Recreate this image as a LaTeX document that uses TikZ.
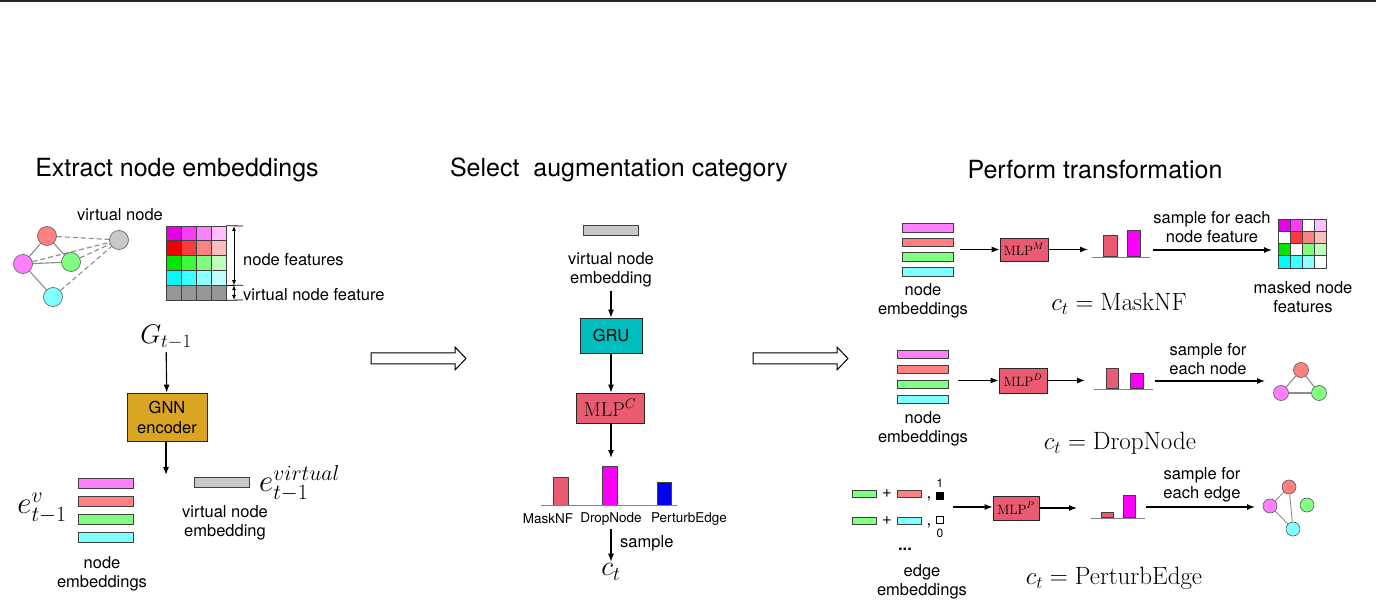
\RequirePackage{fix-cm}
\documentclass[tikz,border=0pt]{standalone}
\usepackage[no-math]{fontspec}
\setmainfont{TeX Gyre Heros}
\usetikzlibrary{arrows.meta,backgrounds}
\definecolor{cM}{RGB}{255,128,255}
\definecolor{cR}{RGB}{255,128,128}
\definecolor{cG}{RGB}{128,255,128}
\definecolor{cC}{RGB}{128,255,255}
\definecolor{cV}{RGB}{200,200,200}
\definecolor{gold}{RGB}{218,165,32}
\definecolor{tealbox}{RGB}{0,190,190}
\definecolor{mlp}{RGB}{234,90,112}
\definecolor{barM}{RGB}{250,0,250}
\definecolor{barB}{RGB}{0,0,235}
\definecolor{edgegray}{RGB}{140,140,140}
% left feature matrix
\definecolor{L11}{RGB}{230,0,230}\definecolor{L12}{RGB}{250,60,250}\definecolor{L13}{RGB}{250,130,250}\definecolor{L14}{RGB}{255,190,255}
\definecolor{L21}{RGB}{240,0,0}\definecolor{L22}{RGB}{250,60,60}\definecolor{L23}{RGB}{250,130,130}\definecolor{L24}{RGB}{255,190,190}
\definecolor{L31}{RGB}{0,230,0}\definecolor{L32}{RGB}{60,250,60}\definecolor{L33}{RGB}{130,250,130}\definecolor{L34}{RGB}{190,255,190}
\definecolor{L41}{RGB}{0,250,250}\definecolor{L42}{RGB}{60,255,255}\definecolor{L43}{RGB}{140,255,255}\definecolor{L44}{RGB}{190,255,255}
\definecolor{L51}{RGB}{150,150,150}\definecolor{L52}{RGB}{150,150,150}\definecolor{L53}{RGB}{150,150,150}\definecolor{L54}{RGB}{150,150,150}
% masked matrix
\definecolor{R11}{RGB}{230,0,230}\definecolor{R12}{RGB}{250,60,250}\definecolor{R13}{RGB}{255,255,255}\definecolor{R14}{RGB}{255,190,255}
\definecolor{R21}{RGB}{255,255,255}\definecolor{R22}{RGB}{250,60,60}\definecolor{R23}{RGB}{250,130,130}\definecolor{R24}{RGB}{255,190,190}
\definecolor{R31}{RGB}{0,230,0}\definecolor{R32}{RGB}{255,255,255}\definecolor{R33}{RGB}{130,250,130}\definecolor{R34}{RGB}{190,255,190}
\definecolor{R41}{RGB}{0,250,250}\definecolor{R42}{RGB}{60,255,255}\definecolor{R43}{RGB}{140,255,255}\definecolor{R44}{RGB}{255,255,255}
\begin{document}
\begin{tikzpicture}[x=1pt,y=-1pt,
  lbl/.style={font=\fontsize{16.5}{19.5}\selectfont, align=center, inner sep=0pt},
  small/.style={font=\fontsize{13.5}{16}\selectfont, inner sep=0pt},
  tiny/.style={font=\fontsize{12}{14}\selectfont, inner sep=0pt},
  ttl/.style={font=\fontsize{25}{30}\selectfont, inner sep=0pt},
  arr/.style={-{Latex[length=8pt,width=6pt]}, line width=1.1pt},
  dbl/.style={{Latex[length=5pt,width=4pt]}-{Latex[length=5pt,width=4pt]}, line width=0.8pt},
  emb/.style={draw=black!75, line width=0.7pt, inner sep=0pt, minimum width=55pt, minimum height=10pt},
  embs/.style={emb, minimum width=51pt, minimum height=8.5pt},
  embe/.style={emb, minimum width=24pt, minimum height=7pt},
  gnode/.style={circle, draw=black!65, line width=0.6pt, inner sep=0pt, minimum size=19pt},
  sgnode/.style={gnode, minimum size=15pt},
  gedge/.style={draw=edgegray, line width=1.1pt},
  dedge/.style={gedge, dash pattern=on 5pt off 3pt},
  cell/.style={draw=black!75, line width=0.6pt, inner sep=0pt, minimum width=15pt, minimum height=14.8pt},
  scell/.style={cell, minimum width=12pt, minimum height=12.25pt},
  box/.style={draw=black!85, line width=0.8pt, inner sep=0pt},
  pbar/.style={draw=black!75, line width=0.6pt, inner sep=0pt, anchor=south},
  base/.style={draw=black!50, line width=0.9pt},
  hollow/.style={draw=black, line width=1pt, fill=white},
  mathbig/.style={inner sep=0pt}
]
\useasboundingbox (0,0) rectangle (1376,601);
\fill[black!85] (0,0) rectangle (1376,2.4);

% titles
\node[ttl] (t1) at (177,170) {Extract node embeddings};
\node[ttl] (t2) at (619,170) {Select\ \ augmentation category};
\node[ttl] (t3) at (1095,170) {Perform transformation};

% ---------------- left section ----------------
\node[gnode, fill=cR] (gr) at (47,236) {};
\node[gnode, fill=cM] (gm) at (23,264) {};
\node[gnode, fill=cG] (gg) at (71,262) {};
\node[gnode, fill=cC] (gc) at (53,297) {};
\node[gnode, fill=cV] (gv) at (119,240) {};
\begin{scope}[on background layer]
\draw[gedge] (gr) -- (gm);
\draw[gedge] (gr) -- (gg);
\draw[gedge] (gm) -- (gg);
\draw[gedge] (gm) -- (gc);
\draw[dedge] (gr) -- (gv);
\draw[dedge] (gm) -- (gv);
\draw[dedge] (gg) -- (gv);
\draw[dedge] (gc) -- (gv);
\end{scope}
\node[lbl] (vnl) at (120,215) {virtual node};

\foreach \r in {1,...,5}
  \foreach \c in {1,...,4}
    \node[cell, fill=L\r\c] (L\r\c) at ({166+15*(\c-0.5)},{226+14.8*(\r-0.5)}) {};
\coordinate (b1) at (234,226);
\coordinate (b2) at (234,285.2);
\coordinate (b3) at (234,300);
\draw[line width=0.8pt] (L14.north east) -- (243,226);
\draw[line width=0.8pt] (L44.south east) -- (243,285.2);
\draw[line width=0.8pt] (L54.south east) -- (243,300);
\draw[dbl] (b1) -- (b2);
\draw[dbl] (b2) -- (b3);
\node[lbl, anchor=west] (nf) at (243,260) {node features};
\node[lbl, anchor=west] (vnf) at (243,295) {virtual node feature};

\node[mathbig, font=\fontsize{27}{32}\selectfont] (G) at (166,337) {$G_{t-1}$};
\node[box, fill=gold, minimum width=80pt, minimum height=48pt, lbl, font=\fontsize{16.5}{20}\selectfont] (gnn) at (167,417) {GNN\\encoder};
\draw[arr, shorten <=3pt] (G) -- (gnn);
\coordinate (gnnout) at (166,475);
\draw[arr] (gnn.south -| gnnout) -- (gnnout);

\node[emb, fill=cM] (le1) at (105.5,483) {};
\node[emb, fill=cR] (le2) at (105.5,501.5) {};
\node[emb, fill=cG] (le3) at (105.5,519) {};
\node[emb, fill=cC] (le4) at (105.5,537) {};
\node[mathbig, font=\fontsize{31}{36}\selectfont] (ev) at (42,508) {$e^{v}_{t-1}$};
\node[lbl] (nel) at (102,574) {node\\embeddings};
\node[emb, fill=cV] (lv) at (221.5,482.5) {};
\node[mathbig, font=\fontsize{31}{36}\selectfont, anchor=west] (evirt) at (259,483) {$e^{virtual}_{t-1}$};
\node[lbl] (vel) at (225,523) {virtual node\\embedding};

% hollow arrows
\draw[hollow] (371,353) -- (455,353) -- (455,347) -- (466,358.5) -- (455,370) -- (455,364) -- (371,364) -- cycle;
\draw[hollow] (753,353) -- (837,353) -- (837,347) -- (848,358.5) -- (837,370) -- (837,364) -- (753,364) -- cycle;

% ---------------- middle section ----------------
\node[emb, fill=cV] (mv) at (610.5,230) {};
\node[lbl] (mvl) at (611,270) {virtual node\\embedding};
\node[box, fill=tealbox, minimum width=62pt, minimum height=35pt, font=\fontsize{16.5}{19.5}\selectfont] (gru) at (611,335.5) {GRU};
\node[box, fill=mlp, minimum width=68pt, minimum height=30pt, font=\fontsize{20}{24}\selectfont] (mlpC) at (610,408) {$\mathrm{MLP}^{C}$};
\draw[arr, shorten <=3pt] (mvl) -- (mvl.south |- gru.north);
\draw[arr] (gru) -- (gru.south |- mlpC.north);
\coordinate (mlpCout) at (611,458);
\draw[arr] (mlpC.south -| mlpCout) -- (mlpCout);
\coordinate (mb0) at (541,505.7);
\coordinate (mb1) at (677,505.7);
\node[pbar, fill=mlp, minimum width=15pt, minimum height=28pt] (cb1) at (560.5,505.7) {};
\node[pbar, fill=barM, minimum width=15pt, minimum height=39pt] (cb2) at (609.5,505.7) {};
\node[pbar, fill=barB, minimum width=14pt, minimum height=23pt] (cb3) at (664,505.7) {};
\draw[base] (mb0) -- (mb1);
\node[small] (mnf) at (548,519) {MaskNF};
\node[small] (dnl) at (611,519) {DropNode};
\node[small] (pel) at (689,519) {PerturbEdge};
\node[mathbig, font=\fontsize{28}{32}\selectfont] (ct) at (611,572) {$c_t$};
\draw[arr, shorten <=3pt, shorten >=2pt] (dnl) -- (ct);
\node[lbl, anchor=west] (smp) at (620,543) {sample};

% ---------------- right section: row 1 ----------------
\node[embs, fill=cM] (r1e1) at (927.5,228) {};
\node[embs, fill=cR] (r1e2) at (927.5,242.5) {};
\node[embs, fill=cG] (r1e3) at (927.5,257) {};
\node[embs, fill=cC] (r1e4) at (927.5,272) {};
\node[lbl] (r1l) at (923,301) {node\\embeddings};
\node[box, fill=mlp, minimum width=48pt, minimum height=23pt, font=\fontsize{13.5}{16}\selectfont] (mlpM) at (1024,249.5) {$\mathrm{MLP}^{M}$};
\coordinate (r1a) at (960,249.5);
\draw[arr] (r1a) -- (mlpM);
\coordinate (r1b) at (1088,249.5);
\draw[arr] (mlpM.east) -- (r1b);
\coordinate (r1c0) at (1092,257);
\coordinate (r1c1) at (1150,257);
\node[pbar, fill=mlp, minimum width=14pt, minimum height=21pt] (r1b1) at (1110,257) {};
\node[pbar, fill=barM, minimum width=13pt, minimum height=26pt] (r1b2) at (1133.5,257) {};
\draw[base] (r1c0) -- (r1c1);
\foreach \r in {1,...,4}
  \foreach \c in {1,...,4}
    \node[scell, fill=R\r\c] (R\r\c) at ({1278+12*(\c-0.5)},{219+12.25*(\r-0.5)}) {};
\coordinate (r1d) at (1153,250);
\coordinate (r1e) at (1272,250);
\draw[arr] (r1d) -- (r1e);
\node[lbl] (r1s) at (1212,227) {sample for each\\node feature};
\node[lbl] (r1m) at (1303,297) {masked node\\features};
\node[mathbig, font=\fontsize{25}{30}\selectfont] (ct1) at (1119,304) {$c_t=\mathrm{MaskNF}$};

% ---------------- right section: row 2 ----------------
\node[embs, fill=cM, minimum height=8pt] (r2e1) at (923,354.5) {};
\node[embs, fill=cR, minimum height=8pt] (r2e2) at (923,369.5) {};
\node[embs, fill=cG, minimum height=8pt] (r2e3) at (923,384.5) {};
\node[embs, fill=cC, minimum height=8pt] (r2e4) at (923,399) {};
\node[lbl] (r2l) at (923,429) {node\\embeddings};
\node[box, fill=mlp, minimum width=48pt, minimum height=25pt, font=\fontsize{13.5}{16}\selectfont] (mlpD) at (1023,380.5) {$\mathrm{MLP}^{D}$};
\coordinate (r2a) at (958,380.5);
\draw[arr] (r2a) -- (mlpD);
\coordinate (r2b) at (1085,380.5);
\draw[arr] (mlpD.east) -- (r2b);
\coordinate (r2c0) at (1094,389);
\coordinate (r2c1) at (1153,389);
\node[pbar, fill=mlp, minimum width=12pt, minimum height=20pt] (r2b1) at (1112.5,389) {};
\node[pbar, fill=barM, minimum width=13pt, minimum height=15pt] (r2b2) at (1136.5,389) {};
\draw[base] (r2c0) -- (r2c1);
\coordinate (r2d) at (1155,381);
\coordinate (r2e) at (1265,381);
\draw[arr] (r2d) -- (r2e);
\node[lbl] (r2s) at (1208,359) {sample for\\each node};
\node[sgnode, fill=cR] (dr) at (1301,370) {};
\node[sgnode, fill=cM] (dm) at (1281,393) {};
\node[sgnode, fill=cG] (dg) at (1319,393) {};
\draw[gedge] (dr) -- (dm);
\draw[gedge] (dr) -- (dg);
\draw[gedge] (dm) -- (dg);
\node[mathbig, font=\fontsize{25}{30}\selectfont] (ct2) at (1120,443) {$c_t=\mathrm{DropNode}$};

% ---------------- right section: row 3 ----------------
\node[embe, fill=cG] (pa1) at (864,493.5) {};
\node[lbl] (pap) at (887,493.5) {+};
\node[embe, fill=cR] (pa2) at (909.5,493.5) {};
\node[lbl, anchor=base] (pac) at (929,498) {,};
\node[draw=black, fill=black, inner sep=0pt, minimum size=7pt] (pas) at (939.5,495.5) {};
\node[tiny] (pa1l) at (940,483) {1};
\node[embe, fill=cG] (pb1) at (864,521) {};
\node[lbl] (pbp) at (887,521) {+};
\node[embe, fill=cC] (pb2) at (909.5,521) {};
\node[lbl, anchor=base] (pbc) at (929,525) {,};
\node[draw=black, fill=white, line width=0.7pt, inner sep=0pt, minimum size=7pt] (pbs) at (939.5,520) {};
\node[tiny] (pb0l) at (940,533) {0};
\node[lbl, font=\bfseries\fontsize{16.5}{19.5}\selectfont] (pdots) at (905,549) {...};
\node[lbl] (r3l) at (922,582) {edge\\embeddings};
\node[box, fill=mlp, minimum width=46pt, minimum height=24pt, font=\fontsize{13.5}{16}\selectfont] (mlpP) at (1016,508) {$\mathrm{MLP}^{P}$};
\coordinate (r3a) at (953,507);
\draw[arr] (r3a) -- (r3a -| mlpP.west);
\coordinate (r3b) at (1077,508);
\draw[arr] (mlpP.east) -- (r3b);
\coordinate (r3c0) at (1091,518);
\coordinate (r3c1) at (1145,518);
\node[pbar, fill=mlp, minimum width=12pt, minimum height=5pt] (r3b1) at (1107,518) {};
\node[pbar, fill=barM, minimum width=12pt, minimum height=22pt] (r3b2) at (1129,518) {};
\draw[base] (r3c0) -- (r3c1);
\coordinate (r3d) at (1146,507);
\coordinate (r3e) at (1255,507);
\draw[arr] (r3d) -- (r3e);
\node[lbl] (r3s) at (1202,485) {sample for\\each edge};
\node[sgnode, fill=cR, minimum size=14pt] (pr) at (1289,487) {};
\node[sgnode, fill=cM, minimum size=14pt] (pm) at (1270,506) {};
\node[sgnode, fill=cG, minimum size=14pt] (pg) at (1307,505) {};
\node[sgnode, fill=cC, minimum size=14pt] (pc) at (1293,529) {};
\draw[gedge, line width=0.9pt] (pr) -- (pm);
\draw[gedge, line width=0.9pt] (pr) -- (pc);
\draw[gedge, line width=0.9pt] (pm) -- (pc);
\node[mathbig, font=\fontsize{25}{30}\selectfont] (ct3) at (1114,578) {$c_t=\mathrm{PerturbEdge}$};
\end{tikzpicture}
\end{document}
